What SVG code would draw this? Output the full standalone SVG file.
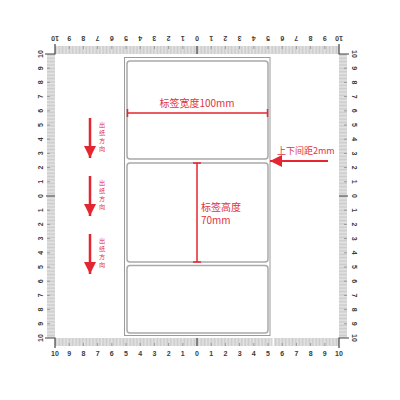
<svg xmlns="http://www.w3.org/2000/svg" width="400" height="400" viewBox="0 0 400 400">
<defs>
<pattern id="rh" patternUnits="userSpaceOnUse" x="55" y="0" width="1.42" height="10"><rect width="1.42" height="10" fill="#e3e3e3"/><rect x="0" width="0.55" height="10" fill="#c6c6c6"/></pattern>
<pattern id="rv" patternUnits="userSpaceOnUse" x="0" y="54" width="10" height="1.42"><rect width="10" height="1.42" fill="#e3e3e3"/><rect y="0" width="10" height="0.55" fill="#c6c6c6"/></pattern>
<marker id="ah" viewBox="0 0 12 12" refX="12" refY="6" markerWidth="12" markerHeight="12" markerUnits="userSpaceOnUse" orient="auto"><path d="M0,0 L12,6 L0,12 Z" fill="#e3262f"/></marker>
</defs>
<style>
.n{font-family:"Liberation Sans",Arial,sans-serif;font-size:7px;font-weight:bold;fill:#3a3a3a;text-anchor:middle;dominant-baseline:central}
.tk{stroke:#8a8a8a;stroke-width:0.8}
.dk{stroke:#444;stroke-width:1.2;fill:none}
.lab{fill:#fff;stroke:#a9a9a9;stroke-width:1.5}
.red{stroke:#e3262f;fill:none}
.rt{font-family:"Noto Sans CJK SC","Noto Sans",sans-serif;fill:#e0343d}
.v{font-family:"Noto Sans CJK SC",sans-serif;fill:#e0343d;font-size:6.2px;text-anchor:middle}
</style>
<rect width="400" height="400" fill="#fff"/>
<g id="ruler">
<rect x="55" y="46" width="284" height="8" fill="url(#rh)"/>
<rect x="55" y="338" width="284" height="8" fill="url(#rh)"/>
<rect x="47" y="54" width="8" height="284" fill="url(#rv)"/>
<rect x="339" y="54" width="8" height="284" fill="url(#rv)"/>
<rect x="272.5" y="337" width="1.5" height="10" fill="#fff"/>
<path class="tk" d="M69.2,46v3M83.4,46v3M97.6,46v3M111.8,46v3M126,46v3M140.2,46v3M154.4,46v3M168.6,46v3M182.8,46v3M211.2,46v3M225.4,46v3M239.6,46v3M253.8,46v3M268,46v3M282.2,46v3M296.4,46v3M310.6,46v3M324.8,46v3
M69.2,346v-3M83.4,346v-3M97.6,346v-3M111.8,346v-3M126,346v-3M140.2,346v-3M154.4,346v-3M168.6,346v-3M182.8,346v-3M211.2,346v-3M225.4,346v-3M239.6,346v-3M253.8,346v-3M268,346v-3M282.2,346v-3M296.4,346v-3M310.6,346v-3M324.8,346v-3
M47,68.2h3M47,82.4h3M47,96.6h3M47,110.8h3M47,125h3M47,139.2h3M47,153.4h3M47,167.6h3M47,181.8h3M47,210.2h3M47,224.4h3M47,238.6h3M47,252.8h3M47,267h3M47,281.2h3M47,295.4h3M47,309.6h3M47,323.8h3
M347,68.2h-3M347,82.4h-3M347,96.6h-3M347,110.8h-3M347,125h-3M347,139.2h-3M347,153.4h-3M347,167.6h-3M347,181.8h-3M347,210.2h-3M347,224.4h-3M347,238.6h-3M347,252.8h-3M347,267h-3M347,281.2h-3M347,295.4h-3M347,309.6h-3M347,323.8h-3"/>
<path class="dk" d="M55,44V54H45M339,44V54H349M55,348V338H45M339,348V338H349M197,46V54M197,338V346M46,196H55M339,196H348"/>
<g id="top-numbers">
<text class="n" transform="translate(55,38) rotate(180)">10</text>
<text class="n" transform="translate(69.2,38) rotate(180)">9</text>
<text class="n" transform="translate(83.4,38) rotate(180)">8</text>
<text class="n" transform="translate(97.6,38) rotate(180)">7</text>
<text class="n" transform="translate(111.8,38) rotate(180)">6</text>
<text class="n" transform="translate(126,38) rotate(180)">5</text>
<text class="n" transform="translate(140.2,38) rotate(180)">4</text>
<text class="n" transform="translate(154.4,38) rotate(180)">3</text>
<text class="n" transform="translate(168.6,38) rotate(180)">2</text>
<text class="n" transform="translate(182.8,38) rotate(180)">1</text>
<text class="n" transform="translate(197,38) rotate(180)">0</text>
<text class="n" transform="translate(211.2,38) rotate(180)">1</text>
<text class="n" transform="translate(225.4,38) rotate(180)">2</text>
<text class="n" transform="translate(239.6,38) rotate(180)">3</text>
<text class="n" transform="translate(253.8,38) rotate(180)">4</text>
<text class="n" transform="translate(268,38) rotate(180)">5</text>
<text class="n" transform="translate(282.2,38) rotate(180)">6</text>
<text class="n" transform="translate(296.4,38) rotate(180)">7</text>
<text class="n" transform="translate(310.6,38) rotate(180)">8</text>
<text class="n" transform="translate(324.8,38) rotate(180)">9</text>
<text class="n" transform="translate(339,38) rotate(180)">10</text>
</g>
<g id="bottom-numbers">
<text class="n" x="55" y="353">10</text>
<text class="n" x="69.2" y="353">9</text>
<text class="n" x="83.4" y="353">8</text>
<text class="n" x="97.6" y="353">7</text>
<text class="n" x="111.8" y="353">6</text>
<text class="n" x="126" y="353">5</text>
<text class="n" x="140.2" y="353">4</text>
<text class="n" x="154.4" y="353">3</text>
<text class="n" x="168.6" y="353">2</text>
<text class="n" x="182.8" y="353">1</text>
<text class="n" x="197" y="353">0</text>
<text class="n" x="211.2" y="353">1</text>
<text class="n" x="225.4" y="353">2</text>
<text class="n" x="239.6" y="353">3</text>
<text class="n" x="253.8" y="353">4</text>
<text class="n" x="268" y="353">5</text>
<text class="n" x="282.2" y="353">6</text>
<text class="n" x="296.4" y="353">7</text>
<text class="n" x="310.6" y="353">8</text>
<text class="n" x="324.8" y="353">9</text>
<text class="n" x="339" y="353">10</text>
</g>
<g id="left-numbers">
<text class="n" transform="translate(40,54) rotate(-90)">10</text>
<text class="n" transform="translate(40,68.2) rotate(-90)">9</text>
<text class="n" transform="translate(40,82.4) rotate(-90)">8</text>
<text class="n" transform="translate(40,96.6) rotate(-90)">7</text>
<text class="n" transform="translate(40,110.8) rotate(-90)">6</text>
<text class="n" transform="translate(40,125) rotate(-90)">5</text>
<text class="n" transform="translate(40,139.2) rotate(-90)">4</text>
<text class="n" transform="translate(40,153.4) rotate(-90)">3</text>
<text class="n" transform="translate(40,167.6) rotate(-90)">2</text>
<text class="n" transform="translate(40,181.8) rotate(-90)">1</text>
<text class="n" transform="translate(40,196) rotate(-90)">0</text>
<text class="n" transform="translate(40,210.2) rotate(-90)">1</text>
<text class="n" transform="translate(40,224.4) rotate(-90)">2</text>
<text class="n" transform="translate(40,238.6) rotate(-90)">3</text>
<text class="n" transform="translate(40,252.8) rotate(-90)">4</text>
<text class="n" transform="translate(40,267) rotate(-90)">5</text>
<text class="n" transform="translate(40,281.2) rotate(-90)">6</text>
<text class="n" transform="translate(40,295.4) rotate(-90)">7</text>
<text class="n" transform="translate(40,309.6) rotate(-90)">8</text>
<text class="n" transform="translate(40,323.8) rotate(-90)">9</text>
<text class="n" transform="translate(40,338) rotate(-90)">10</text>
</g>
<g id="right-numbers">
<text class="n" transform="translate(354,54) rotate(90)">10</text>
<text class="n" transform="translate(354,68.2) rotate(90)">9</text>
<text class="n" transform="translate(354,82.4) rotate(90)">8</text>
<text class="n" transform="translate(354,96.6) rotate(90)">7</text>
<text class="n" transform="translate(354,110.8) rotate(90)">6</text>
<text class="n" transform="translate(354,125) rotate(90)">5</text>
<text class="n" transform="translate(354,139.2) rotate(90)">4</text>
<text class="n" transform="translate(354,153.4) rotate(90)">3</text>
<text class="n" transform="translate(354,167.6) rotate(90)">2</text>
<text class="n" transform="translate(354,181.8) rotate(90)">1</text>
<text class="n" transform="translate(354,196) rotate(90)">0</text>
<text class="n" transform="translate(354,210.2) rotate(90)">1</text>
<text class="n" transform="translate(354,224.4) rotate(90)">2</text>
<text class="n" transform="translate(354,238.6) rotate(90)">3</text>
<text class="n" transform="translate(354,252.8) rotate(90)">4</text>
<text class="n" transform="translate(354,267) rotate(90)">5</text>
<text class="n" transform="translate(354,281.2) rotate(90)">6</text>
<text class="n" transform="translate(354,295.4) rotate(90)">7</text>
<text class="n" transform="translate(354,309.6) rotate(90)">8</text>
<text class="n" transform="translate(354,323.8) rotate(90)">9</text>
<text class="n" transform="translate(354,338) rotate(90)">10</text>
</g>
</g>
<g id="label-strip">
<rect x="124.5" y="57.5" width="145.5" height="278" fill="#fff" stroke="#9a9a9a" stroke-width="1"/>
</g>
<g id="label-1"><rect class="lab" x="127" y="61" width="141" height="98" rx="3"/></g>
<g id="label-2"><rect class="lab" x="127" y="163" width="141" height="99" rx="3"/></g>
<g id="label-3"><rect class="lab" x="127" y="265.5" width="141" height="67.5" rx="3"/></g>
<g id="connectors">
<path class="red" stroke-width="1.5" d="M127.5,113H267.5M127.5,109V117M267.5,109V117"/>
<path class="red" stroke-width="1.5" d="M197,163V262M193,163H201M193,262H201"/>
<line class="red" stroke-width="2" x1="328" y1="161" x2="270" y2="161" marker-end="url(#ah)"/>
<line class="red" stroke-width="2.5" x1="90" y1="118" x2="90" y2="158" marker-end="url(#ah)"/>
<line class="red" stroke-width="2.5" x1="90" y1="176" x2="90" y2="216" marker-end="url(#ah)"/>
<line class="red" stroke-width="2.5" x1="90" y1="234" x2="90" y2="274" marker-end="url(#ah)"/>
</g>
<g id="texts">
<text class="rt" x="197" y="107" font-size="10" text-anchor="middle">标签宽度100mm</text>
<text class="rt" x="201" y="210.5" font-size="10">标签高度</text>
<text class="rt" x="201" y="224" font-size="10">70mm</text>
<text class="rt" x="277" y="154" font-size="9">上下间距2mm</text>
<text class="v" x="102" y="127">出</text><text class="v" x="102" y="135">纸</text><text class="v" x="102" y="143">方</text><text class="v" x="102" y="151">向</text>
<text class="v" x="102" y="185">出</text><text class="v" x="102" y="193">纸</text><text class="v" x="102" y="201">方</text><text class="v" x="102" y="209">向</text>
<text class="v" x="102" y="243">出</text><text class="v" x="102" y="251">纸</text><text class="v" x="102" y="259">方</text><text class="v" x="102" y="267">向</text>
</g>
</svg>
